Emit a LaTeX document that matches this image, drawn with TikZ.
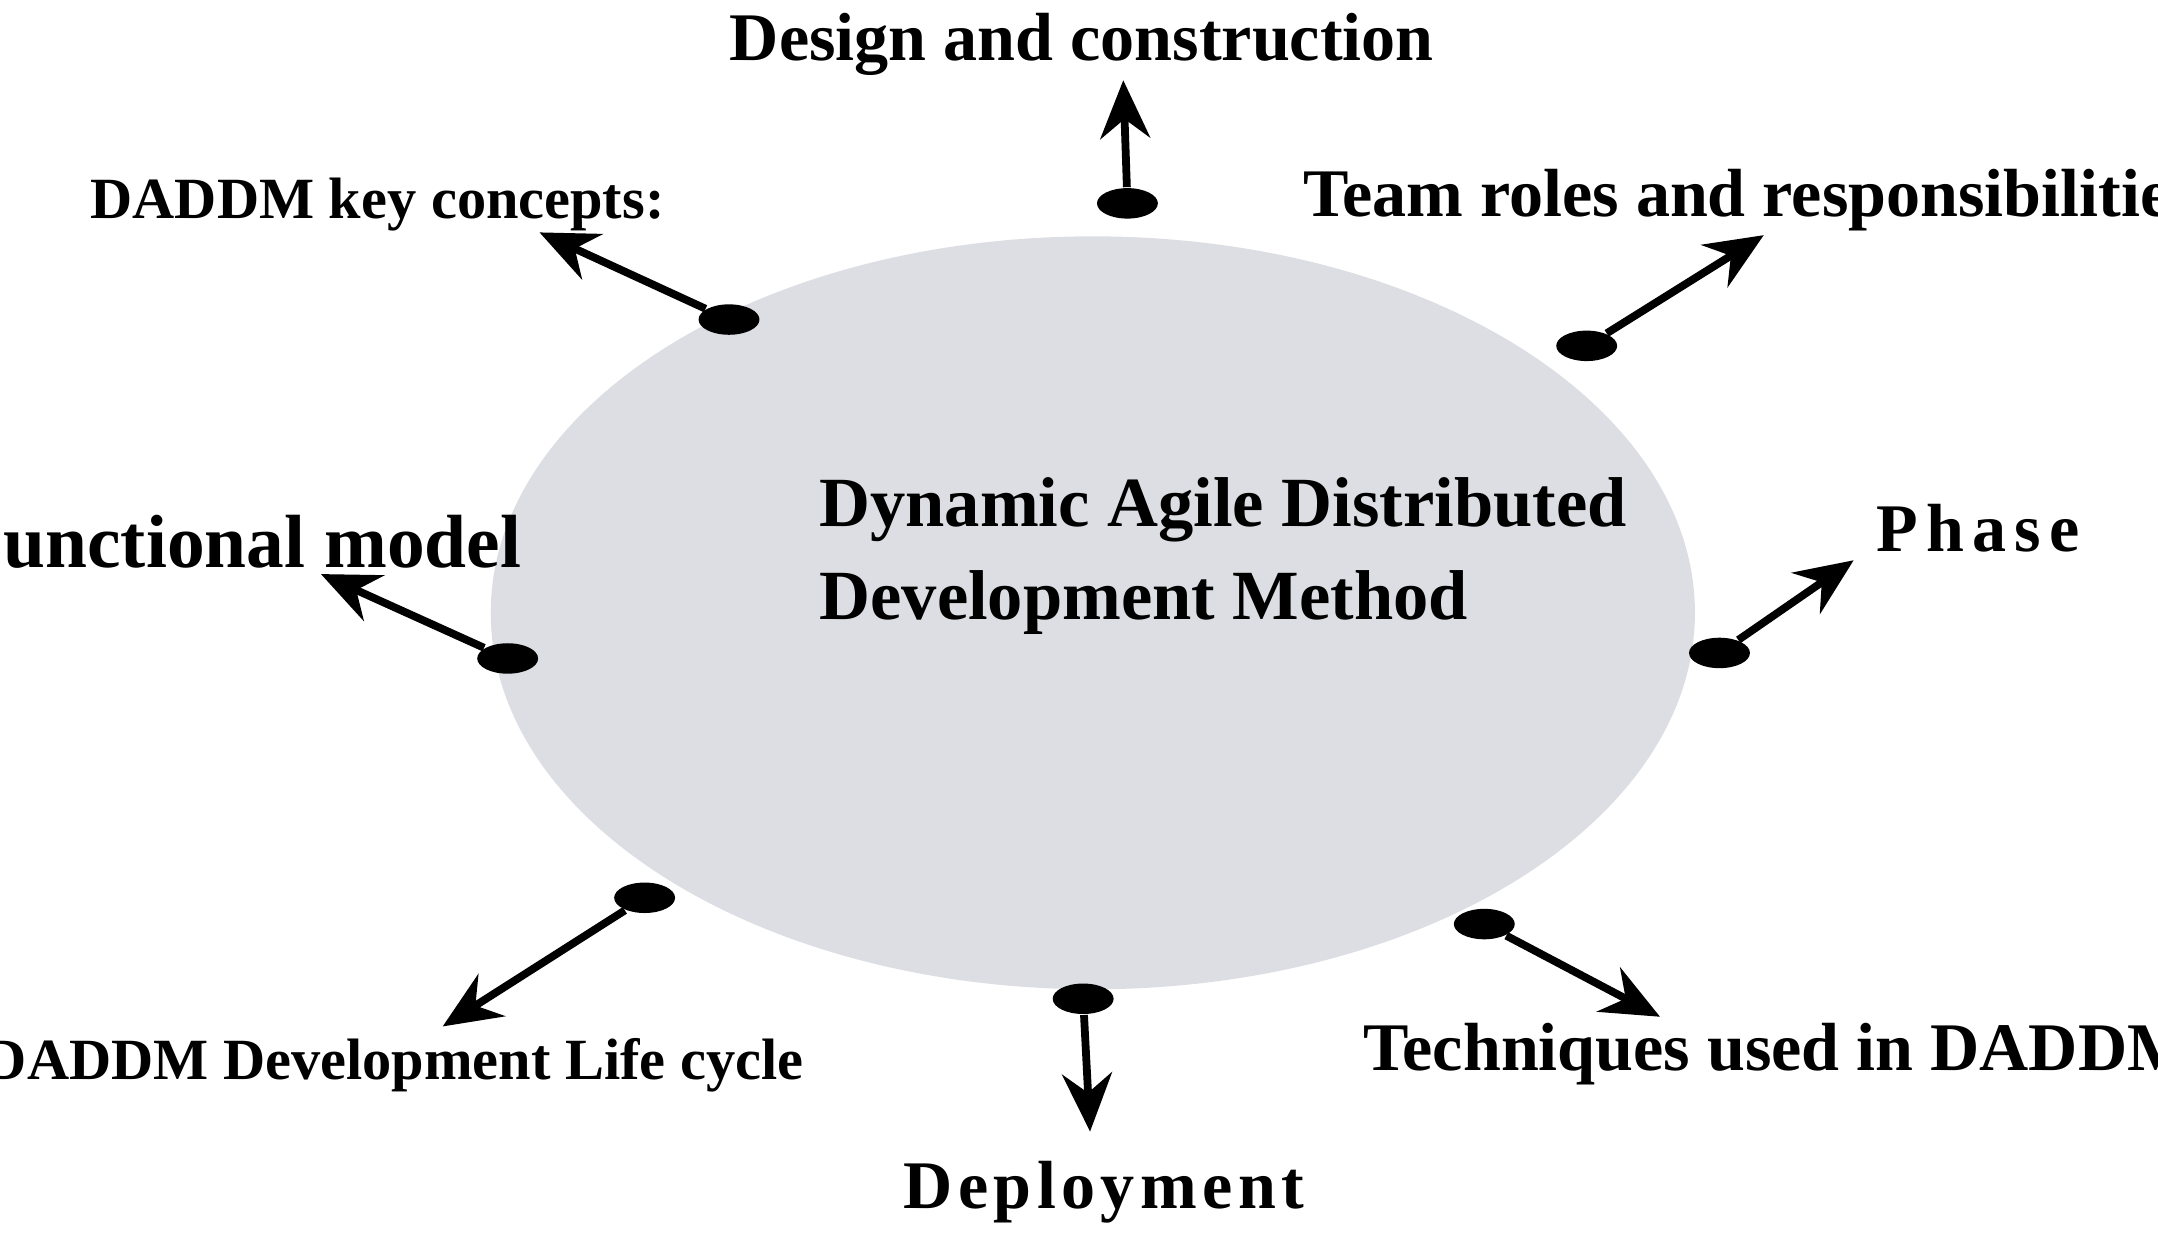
\documentclass[tikz,border=0pt]{standalone}
\usepackage{fontspec}
\setmainfont{Liberation Serif}
\usetikzlibrary{arrows.meta,shapes.geometric}
\definecolor{ellgray}{RGB}{221,222,227}
\begin{document}
\begin{tikzpicture}[x=0.01cm,y=-0.01cm,
  dot/.style={fill=black,ellipse,minimum width=0.44cm,minimum height=0.22cm,inner sep=0pt},
  arr/.style={line width=1.6pt,-{Stealth[length=0.42cm,width=0.36cm,inset=0.14cm]}},
  lbl/.style={font=\bfseries\fontsize{14}{16}\selectfont,inner sep=0pt},
  slbl/.style={font=\bfseries\fontsize{12}{14}\selectfont,inner sep=0pt}]
\useasboundingbox (0,0) rectangle (1560,897);
\node[ellipse,fill=ellgray,minimum width=8.7cm,minimum height=5.44cm] (e) at (790,443) {};
\node[font=\bfseries\fontsize{14.5}{19}\selectfont,align=left,anchor=west] (c) at (580,402) {Dynamic Agile Distributed\\Development Method};
\foreach \n/\x/\y/\u/\v in {a/815/147/812/58, b/527/231/390/168, c1/1147/250/1275/170, d/1243/472/1340/405,
  f/1073/668/1200/735, g/783/722/788/818, h/466/649/320/742, i/367/476/232/415}{
  \node[dot] (\n) at (\x,\y) {};
  \coordinate (\n t) at (\u,\v);
  \draw[arr] (\n) -- (\n t);
}
\node[lbl] (la) at (782,32) {Design and construction};
\node[slbl] (lb) at (273,148) {DADDM key concepts:};
\node[lbl] (lc) at (1265,145) {Team roles and responsibilities};
\node[lbl,font=\bfseries\fontsize{14}{16}\selectfont\addfontfeatures{LetterSpace=12}] (ld) at (1430,382) {Phase};
\node[lbl] (lf) at (1285,762) {Techniques used in DADDM};
\node[lbl,font=\bfseries\fontsize{14}{16}\selectfont\addfontfeatures{LetterSpace=8}] (lg) at (798,862) {Deployment};
\node[slbl] (lh) at (285,770) {DADDM Development Life cycle};
\node[lbl,font=\bfseries\fontsize{15.5}{18}\selectfont] (li) at (173,392) {Functional model};
\end{tikzpicture}
\end{document}
